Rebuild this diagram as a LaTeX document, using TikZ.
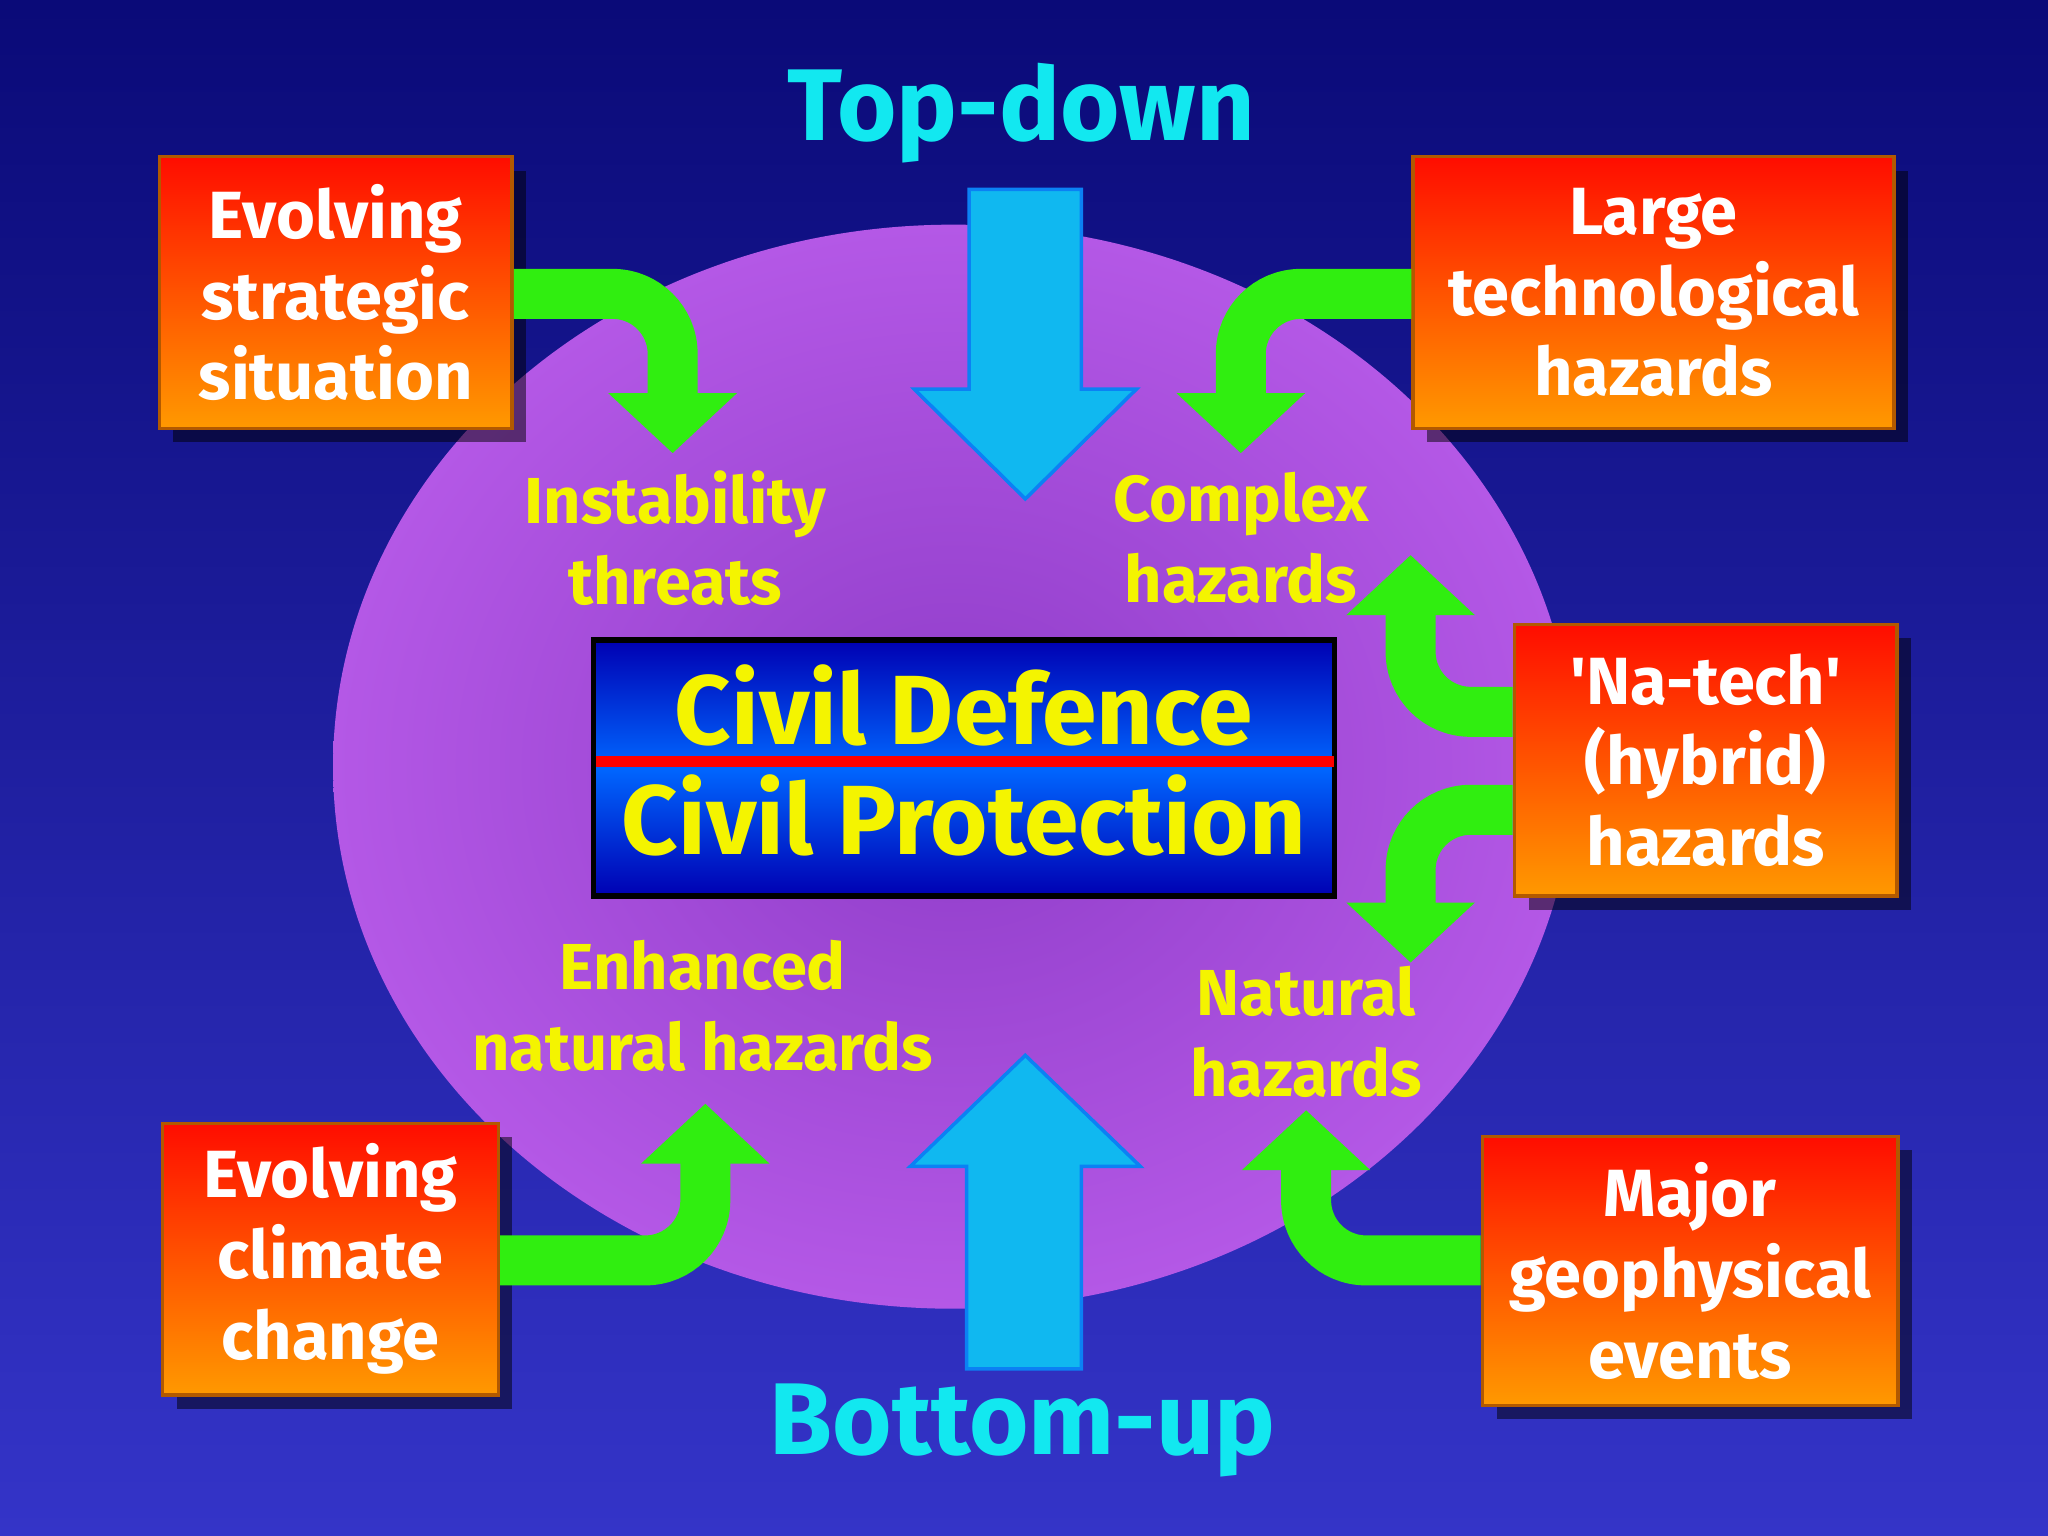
\documentclass[tikz,border=0pt]{standalone}
\usepackage{fontspec}
\setmainfont{Fira Sans}
\usetikzlibrary{arrows.meta,shadows}
\definecolor{bgtop}{HTML}{0A0A78}
\definecolor{bgbot}{HTML}{3434C8}
\definecolor{purp}{HTML}{B458E6}
\definecolor{purpd}{HTML}{8E3CC8}
\definecolor{ylw}{HTML}{F4F400}
\definecolor{cyn}{HTML}{12E8F0}
\definecolor{grn}{HTML}{30EE10}
\definecolor{skyb}{HTML}{10B8F0}
\begin{document}
\begin{tikzpicture}[x=0.013061cm,y=-0.013061cm,
  hbox/.style={draw=orange!70!black,line width=1pt,top color=red!90!orange,bottom color=orange!80!yellow,
    drop shadow={shadow xshift=4pt,shadow yshift=-4pt,fill=black,opacity=.5},
    text=white,font=\bfseries\fontsize{19}{23}\selectfont,align=center,inner sep=0pt},
  ylab/.style={text=ylw,font=\bfseries\fontsize{18.5}{23}\selectfont,align=center},
  blab/.style={text=cyn,font=\bfseries\fontsize{29}{32}\selectfont},
  garrow/.style={draw=grn,line width=0.5cm,rounded corners=0.6cm,-{Triangle[length=0.6cm,width=1.25cm]}},
  barrow/.style={draw=skyb!70!blue,fill=skyb,line width=1pt}]
\useasboundingbox (0,0) rectangle (1568,1176);
\shade[top color=bgtop,bottom color=bgbot] (0,0) rectangle (1568,1176);
\shade[inner color=purpd,outer color=purp] (730,587) ellipse [x radius=475,y radius=415];
% blue arrows
\filldraw[barrow] (742,145) -- (828,145) -- (828,298) -- (870,298) -- (785,382) -- (700,298) -- (742,298) -- cycle;
\filldraw[barrow] (740,1048) -- (828,1048) -- (828,893) -- (873,893) -- (785,808) -- (697,893) -- (740,893) -- cycle;
\node[blab] (td) at (782,87) {Top-down};
\node[blab] (bu) at (783,1095) {Bottom-up};
% boxes
\node[hbox,minimum width=270*0.013061cm,minimum height=208*0.013061cm] (b1) at (257,224) {Evolving\\strategic\\situation};
\node[hbox,minimum width=368*0.013061cm,minimum height=208*0.013061cm] (b2) at (1266,224) {Large\\technological\\hazards};
\node[hbox,minimum width=293*0.013061cm,minimum height=208*0.013061cm] (b3) at (1306,582) {\textquotesingle Na-tech\textquotesingle\\(hybrid)\\hazards};
\node[hbox,minimum width=257*0.013061cm,minimum height=208*0.013061cm] (b4) at (253,964) {Evolving\\climate\\change};
\node[hbox,minimum width=318*0.013061cm,minimum height=206*0.013061cm] (b5) at (1294,973) {Major\\geophysical\\events};
% central box
\node[draw=black,line width=1.5pt,top color=blue!70!black,bottom color=blue!70!black,middle color=blue!60!cyan,minimum width=567*0.013061cm,minimum height=196*0.013061cm,inner sep=0pt] (cb) at (738,588) {};
\draw[red,line width=3pt] (456,583) -- (1021,583);
\node[text=ylw,font=\bfseries\fontsize{28}{32}\selectfont] (cd) at (738,540) {Civil Defence};
\node[text=ylw,font=\bfseries\fontsize{28}{32}\selectfont] (cp) at (738,624) {Civil Protection};
% labels
\node[ylab] (l1) at (517,412) {Instability\\threats};
\node[ylab] (l2) at (950,412) {Complex\\hazards};
\node[ylab] (l3) at (538,770) {Enhanced\\natural hazards};
\node[ylab] (l4) at (1000,790) {Natural\\hazards};
% green arrows
\coordinate (t1) at (515,347);
\coordinate (t2) at (950,347);
\coordinate (t3) at (1080,425);
\coordinate (t4) at (1080,737);
\coordinate (t5) at (540,845);
\coordinate (t6) at (1000,850);
\draw[garrow] (b1.east |- 0,225) -- (515,225) -- (t1);
\draw[garrow] (b2.west |- 0,225) -- (950,225) -- (t2);
\draw[garrow] (b3.west |- 0,545) -- (1080,545) -- (t3);
\draw[garrow] (b3.west |- 0,620) -- (1080,620) -- (t4);
\draw[garrow] (b4.east |- 0,965) -- (540,965) -- (t5);
\draw[garrow] (b5.west |- 0,965) -- (1000,965) -- (t6);
\end{tikzpicture}
\end{document}
